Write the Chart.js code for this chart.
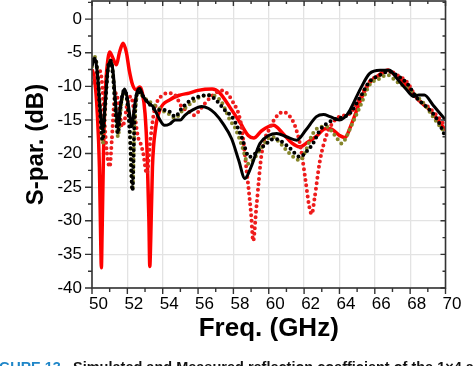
<!DOCTYPE html>
<html>
<head>
<meta charset="utf-8">
<script src="https://cdn.jsdelivr.net/npm/chart.js@4/dist/chart.umd.min.js"></script>
<style>
html,body{margin:0;padding:0;background:#fff;overflow:hidden;width:474px;height:366px;}
#wrap{position:relative;width:474px;height:366px;overflow:hidden;}
canvas{position:absolute;left:0;top:0;}
#cap{position:absolute;left:-14px;top:360px;white-space:nowrap;font:bold 14.5px "Liberation Sans",Arial,sans-serif;line-height:14px;color:#111;}
#cap span{color:#1f86c8;}
</style>
</head>
<body>
<div id="wrap">
<canvas id="c" width="474" height="366"></canvas>
<div id="cap"><span>FIGURE 13.</span>&nbsp; Simulated and Measured reflection coefficient of the 1×4 array</div>
</div>
<script>
// ---- data (frequency in GHz, S-parameter in dB) ----
const xTicks = [50, 52, 54, 56, 58, 60, 62, 64, 66, 68, 70];
const yTicks = [-40, -35, -30, -25, -20, -15, -10, -5, 0];

const blackSolidF = [50.0,50.15,50.3,50.45,50.6,50.75,50.9,51.06,51.2,51.35,51.47,51.6,51.75,51.85,52.0,52.15,52.25,52.4,52.55,52.7,52.9,53.2,53.45,53.8,54.1,54.4,54.7,55.0,55.25,55.7,56.2,56.6,56.95,57.4,57.9,58.3,58.65,59.0,59.5,60.0,60.45,61.0,61.58,62.1,62.7,63.1,63.47,64.0,64.3,64.6,65.2,65.7,66.3,66.85,67.1,67.4,67.8,68.2,68.5,68.8,69.3,70.0];
const blackSolidDb = [-6.8,-5.8,-8,-13,-16.5,-12.5,-7.5,-6.2,-8,-13,-16,-13,-11,-10.4,-11.8,-14.5,-16,-13,-10.8,-10.3,-11.5,-12.5,-13,-14.8,-15.8,-15.6,-15.0,-15,-14.3,-13.5,-13.0,-13.3,-14.0,-15.5,-17.8,-21,-23.7,-22,-18.5,-17.3,-17.0,-17.5,-18.0,-16.5,-14.5,-14.2,-14.5,-15,-14.6,-13.5,-10.3,-8.1,-7.6,-7.6,-8.3,-9.3,-10.5,-11.5,-11.3,-11.3,-12.8,-15];

const redSolidF = [50.0,50.15,50.3,50.42,50.5,50.53,50.57,50.65,50.75,50.9,51.0,51.15,51.38,51.55,51.76,51.95,52.1,52.3,52.5,52.7,52.85,53.0,53.12,53.22,53.27,53.32,53.42,53.6,53.84,54.4,54.97,55.5,56.0,56.8,57.2,57.9,58.4,58.84,59.15,59.6,60.26,60.8,61.3,61.77,62.2,62.71,63.2,63.47,64.0,64.3,64.7,65.2,65.7,66.3,66.7,67.1,67.6,68.0,68.4,68.8,69.1,69.5,70.0];
const redSolidDb = [-7.5,-9,-14,-22,-34,-37,-32,-20,-11,-6,-4.9,-5.6,-6.8,-5,-3.6,-5,-7.5,-9.8,-10.5,-10.1,-11,-14,-20,-30,-36.8,-33,-22,-16.2,-13.5,-12.0,-11.3,-11.0,-10.6,-10.4,-10.9,-13.5,-15.5,-17.3,-17.7,-16.6,-15.8,-17,-18.4,-19.0,-18.3,-17.4,-16.3,-16.3,-17.3,-17.6,-15.5,-12,-9.5,-8.2,-7.6,-8.2,-9.3,-10.5,-11.8,-12.8,-13.5,-14.8,-16.5];

const redDotF = [50.0,50.2,50.4,50.55,50.7,50.85,51.0,51.12,51.25,51.35,51.5,51.7,51.85,52.0,52.2,52.4,52.6,52.75,52.9,53.1,53.3,53.5,53.7,53.9,54.3,54.7,55.07,55.5,55.8,56.1,56.4,56.9,57.33,57.9,58.46,58.7,59.0,59.12,59.3,59.6,60.1,60.5,60.82,61.2,61.5,61.8,62.05,62.3,62.43,62.6,62.9,63.3,63.6,64.0,64.6,65.2,65.7,66.3,66.75,67.25,67.8,68.4,68.9,69.5,70.0];
const redDotDb = [-9.5,-8.3,-7.6,-9,-15,-20,-22,-18,-12.5,-11,-12.5,-16,-15,-12.5,-11.5,-14,-17.5,-18.5,-20,-23,-18,-14,-12.2,-11.5,-11.0,-11.3,-13,-13.8,-14.3,-13.5,-12.5,-11.2,-10.6,-12,-16,-21.4,-29,-33,-28,-20,-16,-14.3,-13.8,-14.5,-16,-19,-23.4,-28,-29,-26.5,-21,-17,-15.5,-14.5,-14,-11.5,-9.3,-8.3,-7.6,-8.3,-9.3,-11.8,-12.8,-14.3,-16];

const blackDotF = [50.0,50.15,50.3,50.45,50.6,50.75,50.9,51.06,51.2,51.35,51.47,51.6,51.75,51.85,52.0,52.15,52.29,52.4,52.6,53.1,53.65,54.1,54.4,54.7,55.07,55.6,56.1,56.57,57.0,57.5,57.99,58.46,58.9,59.1,59.5,59.88,60.3,60.6,61.2,61.77,62.1,62.5,62.9,63.3,63.65,64.0,64.3,64.6,65.2,65.7,66.3,66.8,67.2,67.8,68.4,68.9,69.5,70.0];
const blackDotDb = [-6.8,-5.8,-7.8,-13.5,-18,-12.5,-7.3,-6.2,-8.8,-14.5,-17,-13.5,-10.9,-10.6,-12.3,-17.5,-25.5,-15.5,-10.8,-12.2,-13.5,-13.5,-13.8,-14.5,-13.3,-12,-11.5,-11.3,-12,-13.5,-14.8,-17.5,-20.5,-20.3,-19.3,-18.5,-17.8,-18,-19.2,-20.5,-19.8,-18.5,-16.5,-15.5,-15,-14.7,-14.5,-14,-11.5,-9.3,-8.3,-7.8,-8.3,-9.5,-11.8,-13,-14.8,-17.5];

const oliveDotF = [50.0,50.15,50.3,50.45,50.6,50.75,50.9,51.06,51.2,51.35,51.47,51.6,51.75,51.85,52.0,52.15,52.29,52.4,52.6,53.1,53.65,54.1,54.4,54.7,55.15,55.7,56.1,56.77,57.05,57.33,57.8,58.1,58.5,58.84,59.1,59.5,60.16,60.6,61.0,61.4,61.77,62.1,62.5,63.0,63.3,63.6,63.85,64.13,64.3,64.6,65.2,65.7,66.3,66.7,67.25,68.0,68.75,69.5,70.0];
const oliveDotDb = [-7.1,-5.6,-7.5,-13,-18.5,-13,-7.5,-6.1,-8.5,-14,-17.5,-14,-11.2,-10.8,-12.5,-17,-25.4,-16,-11,-12,-13.0,-13.8,-14.2,-14.7,-13.5,-12.3,-11.6,-11.3,-11.6,-12.3,-15.0,-16.2,-19,-21.5,-21,-19.5,-17.5,-18.3,-19.5,-20.5,-21,-19.5,-17,-16,-16,-16.8,-17.7,-18.5,-18,-16.3,-12.8,-9.8,-8.8,-8.3,-9.3,-10.6,-12.5,-15.3,-17];

function pts(f, v){ return f.map((x,i)=>({x:x, y:v[i]})); }

const FONT = '"Liberation Sans", Arial, sans-serif';

const frame = {
  id:'frame',
  afterDraw(chart){
    const ctx = chart.ctx, a = chart.chartArea;
    const xs = chart.scales.x, ys = chart.scales.y;
    ctx.save();
    ctx.strokeStyle = '#333';
    ctx.lineWidth = 1.6;
    ctx.strokeRect(a.left, a.top, a.right - a.left, a.bottom - a.top);
    ctx.lineWidth = 1.4;
    ctx.beginPath();
    for (let v = 50; v <= 70; v += 1) {
      const px = xs.getPixelForValue(v);
      const major = (v % 2 === 0);
      ctx.moveTo(px, a.bottom); ctx.lineTo(px, a.bottom + (major ? 6 : 4));
      ctx.moveTo(px, a.top); ctx.lineTo(px, a.top + (major ? 5 : 3));
    }
    for (let v = -40; v <= 2.6; v += 2.5) {
      const py = ys.getPixelForValue(v);
      const major = (Math.abs(v % 5) < 0.01);
      ctx.moveTo(a.left, py); ctx.lineTo(a.left - (major ? 7 : 4), py);
      ctx.moveTo(a.right, py); ctx.lineTo(a.right - (major ? 5 : 3), py);
    }
    ctx.stroke();
    // axis titles
    ctx.fillStyle = '#000';
    ctx.font = 'bold 26px ' + FONT;
    ctx.textAlign = 'center';
    ctx.textBaseline = 'middle';
    ctx.fillText('Freq. (GHz)', (a.left + a.right) / 2, 329);
    ctx.translate(36, (a.top + a.bottom) / 2);
    ctx.rotate(-Math.PI / 2);
    ctx.font = 'bold 24px ' + FONT;
    ctx.fillText('S-par. (dB)', 0, 0);
    ctx.restore();
  }
};

const dotted = (color) => ({
  borderColor: color, backgroundColor: color, borderWidth: 4,
  borderDash: [0, 5.5], borderCapStyle: 'round', pointRadius: 0,
  cubicInterpolationMode: 'monotone', fill: false
});
const solid = (color, w) => ({
  borderColor: color, backgroundColor: color, borderWidth: w,
  pointRadius: 0, cubicInterpolationMode: 'monotone', fill: false,
  borderJoinStyle: 'round'
});

new Chart(document.getElementById('c'), {
  type: 'line',
  data: {
    datasets: [
      Object.assign({label:'Black solid', data: pts(blackSolidF, blackSolidDb)}, solid('#000000', 3)),
      Object.assign({label:'Black dotted', data: pts(blackDotF, blackDotDb)}, dotted('#000000')),
      Object.assign({label:'Olive dotted', data: pts(oliveDotF, oliveDotDb)}, dotted('#85852a')),
      Object.assign({label:'Red dotted', data: pts(redDotF, redDotDb)}, dotted('#ee1c1c')),
      Object.assign({label:'Red solid', data: pts(redSolidF, redSolidDb)}, solid('#ff0000', 3.5))
    ]
  },
  options: {
    responsive: false,
    animation: false,
    devicePixelRatio: 1,
    layout: { padding: { top: 1, right: 28.5, bottom: 0, left: 0 } },
    plugins: { legend: { display: false }, tooltip: { enabled: false } },
    scales: {
      x: {
        type: 'linear', min: 50, max: 70,
        afterFit(s){ s.height = 78; s.paddingLeft = 0; s.paddingRight = 0; },
        afterBuildTicks(s){ s.ticks = xTicks.map(v => ({value: v})); },
        grid: { color: '#e3e3e3', lineWidth: 1.3, drawTicks: false },
        border: { display: false },
        ticks: { color: '#000', font: { family: FONT, size: 17 }, padding: 6, maxRotation: 0, labelOffset: 6.5 }
      },
      y: {
        type: 'linear', min: -40, max: 2.7,
        afterFit(s){ s.width = 92; s.paddingTop = 0; s.paddingBottom = 0; },
        afterBuildTicks(s){ s.ticks = yTicks.map(v => ({value: v})); },
        grid: { color: '#e3e3e3', lineWidth: 1.3, drawTicks: false },
        border: { display: false },
        ticks: { color: '#000', font: { family: FONT, size: 17 }, padding: 10 }
      }
    }
  },
  plugins: [frame]
});
</script>
</body>
</html>
